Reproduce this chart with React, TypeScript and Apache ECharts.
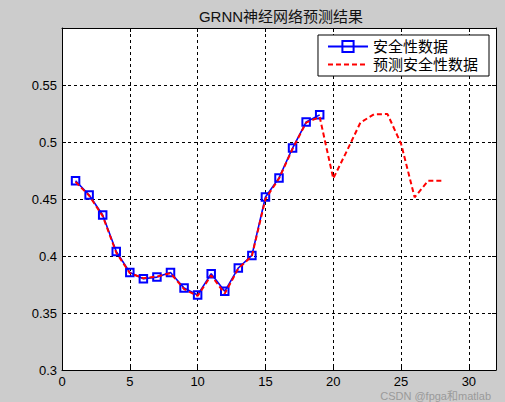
import { useEffect, useRef } from "react";
import * as echarts from "echarts";

const titleText = "GRNN神经网络预测结果";
const seriesNames = ["安全性数据", "预测安全性数据"];
const xIndex = [1, 2, 3, 4, 5, 6, 7, 8, 9, 10, 11, 12, 13, 14, 15, 16, 17, 18, 19, 20, 21, 22, 23, 24, 25, 26, 27, 28];
const safetyData = [
  0.466, 0.4535, 0.436, 0.404, 0.3855, 0.38, 0.3815, 0.3855, 0.372, 0.3658,
  0.3845, 0.369, 0.3895, 0.4005, 0.4518, 0.4685, 0.4947, 0.5175, 0.5238,
];
const predictedData = [
  0.465, 0.453, 0.435, 0.403, 0.385, 0.3805, 0.382, 0.385, 0.371, 0.365,
  0.383, 0.367, 0.389, 0.4, 0.45, 0.468, 0.494, 0.517, 0.522,
  0.468, 0.492, 0.517, 0.5243, 0.5245, 0.4985, 0.4515, 0.466, 0.466,
];
const watermark = "CSDN @fpga和matlab";

const FONT = "'Liberation Sans', Arial, 'Noto Sans CJK SC', sans-serif";

export default function App() {
  const ref = useRef<HTMLDivElement>(null);
  useEffect(() => {
    if (!ref.current) return;
    const chart = echarts.init(ref.current, null, { renderer: "svg" });
    const gridLine = { show: true, lineStyle: { color: "#000", type: [3, 3], width: 1 } };
    const axisLine = { show: true, onZero: false, lineStyle: { color: "#000", width: 1 } };
    const tick = { show: true, inside: true, length: 4, lineStyle: { color: "#000" } };
    chart.setOption({
      animation: false,
      backgroundColor: "#cccccc",
      title: {
        text: titleText,
        left: 276,
        top: 4,
        textAlign: "center",
        textStyle: { fontSize: 15, fontWeight: "normal", color: "#111", fontFamily: FONT },
      },
      grid: { left: 62, right: 9, top: 28, bottom: 32, show: true, backgroundColor: "#fff", borderWidth: 0 },
      legend: {
        orient: "vertical",
        right: 16,
        top: 35,
        padding: [4, 11, 4, 9],
        itemGap: 3,
        itemWidth: 40,
        itemHeight: 14,
        backgroundColor: "#fff",
        borderColor: "#000",
        borderWidth: 1,
        borderRadius: 0,
        textStyle: { fontSize: 15, color: "#000", fontFamily: FONT },
        data: [
          { name: seriesNames[0] },
          { name: seriesNames[1], itemStyle: { opacity: 0 } },
        ],
      },
      xAxis: [
        {
          type: "value",
          min: 0,
          max: 32,
          interval: 5,
          position: "bottom",
          axisLine,
          axisTick: tick,
          splitLine: gridLine,
          axisLabel: { showMaxLabel: false, margin: 5, fontSize: 13, color: "#000", fontFamily: FONT },
        },
        {
          type: "value",
          min: 0,
          max: 32,
          interval: 5,
          position: "top",
          axisLine,
          axisTick: tick,
          splitLine: { show: false },
          axisLabel: { show: false },
        },
      ],
      yAxis: [
        {
          type: "value",
          min: 0.3,
          max: 0.6,
          interval: 0.05,
          position: "left",
          axisLine,
          axisTick: tick,
          splitLine: gridLine,
          axisLabel: { showMaxLabel: false, margin: 5, fontSize: 13, color: "#000", fontFamily: FONT },
        },
        {
          type: "value",
          min: 0.3,
          max: 0.6,
          interval: 0.05,
          position: "right",
          axisLine,
          axisTick: tick,
          splitLine: { show: false },
          axisLabel: { show: false },
        },
      ],
      series: [
        {
          name: seriesNames[0],
          type: "line",
          xAxisIndex: 0,
          yAxisIndex: 0,
          data: safetyData.map((v, i) => [xIndex[i], v]),
          symbol: "rect",
          symbolSize: 7.5,
          showAllSymbol: true,
          color: "#0000ff",
          lineStyle: { color: "#0000ff", width: 1.6 },
          itemStyle: { color: "rgba(0,0,0,0)", borderColor: "#0000ff", borderWidth: 2 },
          z: 2,
        },
        {
          name: seriesNames[1],
          type: "line",
          xAxisIndex: 0,
          yAxisIndex: 0,
          data: predictedData.map((v, i) => [xIndex[i], v]),
          symbol: "none",
          color: "#ff0000",
          lineStyle: { color: "#ff0000", width: 2, type: [5, 3] },
          z: 3,
        },
      ],
      graphic: [
        {
          type: "text",
          right: 14,
          top: 390,
          z: 100,
          style: {
            text: watermark,
            fontSize: 11,
            fontFamily: FONT,
            fill: "#9a9a9a",
          },
        },
      ],
    });
    return () => chart.dispose();
  }, []);
  return (
    <div
      ref={ref}
      style={{ position: "fixed", left: 0, top: 0, width: 505, height: 402 }}
    />
  );
}
